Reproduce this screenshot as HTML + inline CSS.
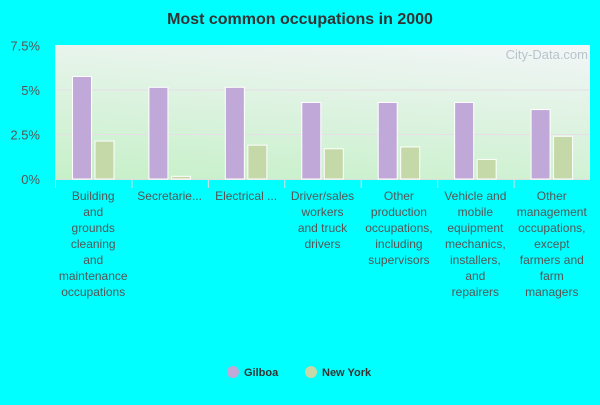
<!DOCTYPE html>
<html><head><meta charset="utf-8"><style>
body{margin:0;background:#00ffff;width:600px;height:400px;overflow:hidden;font-family:"Liberation Sans",sans-serif;}
</style></head><body>
<svg width="600" height="400" xmlns="http://www.w3.org/2000/svg">
<defs><linearGradient id="bg" x1="0" y1="1" x2="0.4" y2="-0.3">
<stop offset="0" stop-color="#c6f0c8"/><stop offset="1" stop-color="#f6f6fb"/></linearGradient></defs>
<text x="300" y="24" text-anchor="middle" font-size="16" font-weight="bold" fill="#333">Most common occupations in 2000</text>
<rect x="55" y="45" width="535" height="134" fill="url(#bg)"/>
<text x="588" y="59" text-anchor="end" font-size="13" fill="#b8c4cc">City-Data.com</text>
<g id="grid"></g><g id="bars"></g><g id="xlabels"></g>
<g>
<circle cx="233" cy="372" r="6" fill="#c0a8d8"/>
<text x="244" y="376" font-size="11" font-weight="bold" fill="#333">Gilboa</text>
<circle cx="311" cy="372" r="6" fill="#c4d8a8"/>
<text x="322" y="376" font-size="11" font-weight="bold" fill="#333">New York</text>
</g>
</svg>
<script>
const categories=[["Building","and","grounds","cleaning","and","maintenance","occupations"],["Secretarie..."],["Electrical ..."],["Driver/sales","workers","and truck","drivers"],["Other","production","occupations,","including","supervisors"],["Vehicle and","mobile","equipment","mechanics,","installers,","and","repairers"],["Other","management","occupations,","except","farmers and","farm","managers"]];
const gilboa=[5.76,5.15,5.15,4.3,4.3,4.3,3.9];
const newYork=[2.13,0.15,1.9,1.7,1.8,1.1,2.4];
const yTicks=[0,2.5,5,7.5];
const yTickLabels=["0%","2.5%","5%","7.5%"];
const NS="http://www.w3.org/2000/svg";
const x0=55,x1=590,yBase=179,yTop=45.5,yMax=7.5;
const gw=(x1-x0)/categories.length;
function y(v){return yBase-(v/yMax)*(yBase-yTop);}
function gx(i){return x0+i*gw;}
function mk(tag,attrs,parent){const e=document.createElementNS(NS,tag);for(const k in attrs)e.setAttribute(k,attrs[k]);parent.appendChild(e);return e;}
const grid=document.getElementById('grid'),bars=document.getElementById('bars'),xl=document.getElementById('xlabels');
yTicks.forEach((t,i)=>{
 if(t>0&&t<yMax){const l=mk('line',{x1:x0,x2:x1,y1:y(t),y2:y(t),stroke:'#e8dde8','stroke-width':1},grid);
 
 }
 const tx=mk('text',{x:40,y:y(t)+5,'text-anchor':'end','font-size':13,fill:'#555'},grid);
 tx.textContent=yTickLabels[i];
 
 
});
const ax=mk('line',{x1:x0,x2:x1,y1:yBase+0.5,y2:yBase+0.5,stroke:'#ddd'},grid);


categories.forEach((c,i)=>{
 const tk=mk('line',{x1:gx(i)+0.5,x2:gx(i)+0.5,y1:yBase,y2:yBase+9,stroke:'#ddd'},grid);
 
 
 const b1=mk('rect',{x:gx(i)+17.5,y:y(gilboa[i]),width:19,height:yBase-y(gilboa[i]),fill:'#c0a8d8',stroke:'#fff','stroke-width':1},bars);
 
 
 const b2=mk('rect',{x:gx(i)+40,y:y(newYork[i]),width:19,height:yBase-y(newYork[i]),fill:'#c4d8a8',stroke:'#fff','stroke-width':1},bars);
 
 
 const t=mk('text',{'text-anchor':'middle','font-size':12,fill:'#555'},xl);
 
 
 c.forEach((line,j)=>{const s=mk('tspan',{x:gx(i)+gw/2,y:200+j*16},t);s.textContent=line;});
});
</script>
</body></html>
